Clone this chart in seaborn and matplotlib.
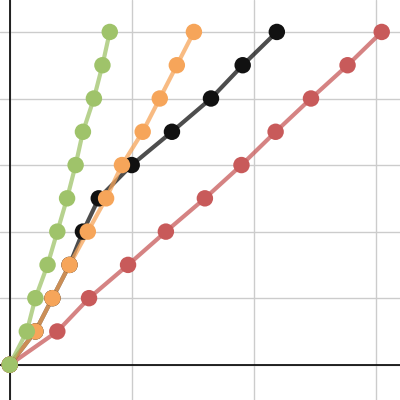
import matplotlib
matplotlib.use("Agg")
import matplotlib.pyplot as plt
import seaborn as sns
import pandas as pd

y_vals = [0, 0.5, 1, 1.5, 2, 2.5, 3, 3.5, 4, 4.5, 5]
green_x = [0, .14, .21, .31, .39, .47, .54, .60, .69, .76, .82]
orange_x = [0, .21, .35, .49, .64, .79, .92, 1.09, 1.23, 1.37, 1.51]
black_x = [0, .21, .35, .49, .60, .73, 1.0, 1.33, 1.65, 1.91, 2.19]
red_x = [0, .39, .65, .97, 1.28, 1.60, 1.90, 2.18, 2.47, 2.77, 3.05]

series = {"red": (red_x, "#c85a5a"), "black": (black_x, "#111111"),
          "orange": (orange_x, "#f6a55a"), "green": (green_x, "#9fc36a")}

sns.set_style("white")
fig = plt.figure(figsize=(4, 4), dpi=100)
ax = fig.add_axes([0, 0, 1, 1])
for name, (xs, c) in series.items():
    df = pd.DataFrame({"x": xs, "y": y_vals})
    sns.lineplot(data=df, x="x", y="y", ax=ax, color=c, lw=3, alpha=0.75,
                 sort=False, zorder=2)
    sns.scatterplot(data=df, x="x", y="y", ax=ax, color=c, s=140,
                    edgecolor="none", zorder=3)
ax.set_xlim(-0.08, 3.2)
ax.set_ylim(-0.53, 5.48)
ax.set_xticks([0, 1, 2, 3])
ax.set_yticks([0, 1, 2, 3, 4, 5])
ax.grid(True, color="#cccccc", lw=1)
ax.axhline(0, color="black", lw=1.2, zorder=1)
ax.axvline(0, color="black", lw=1.2, zorder=1)
ax.set_xticklabels([]); ax.set_yticklabels([])
ax.set_xlabel(""); ax.set_ylabel("")
ax.tick_params(length=0)
for s in ax.spines.values():
    s.set_visible(False)
fig.savefig("out.png", dpi=100)
